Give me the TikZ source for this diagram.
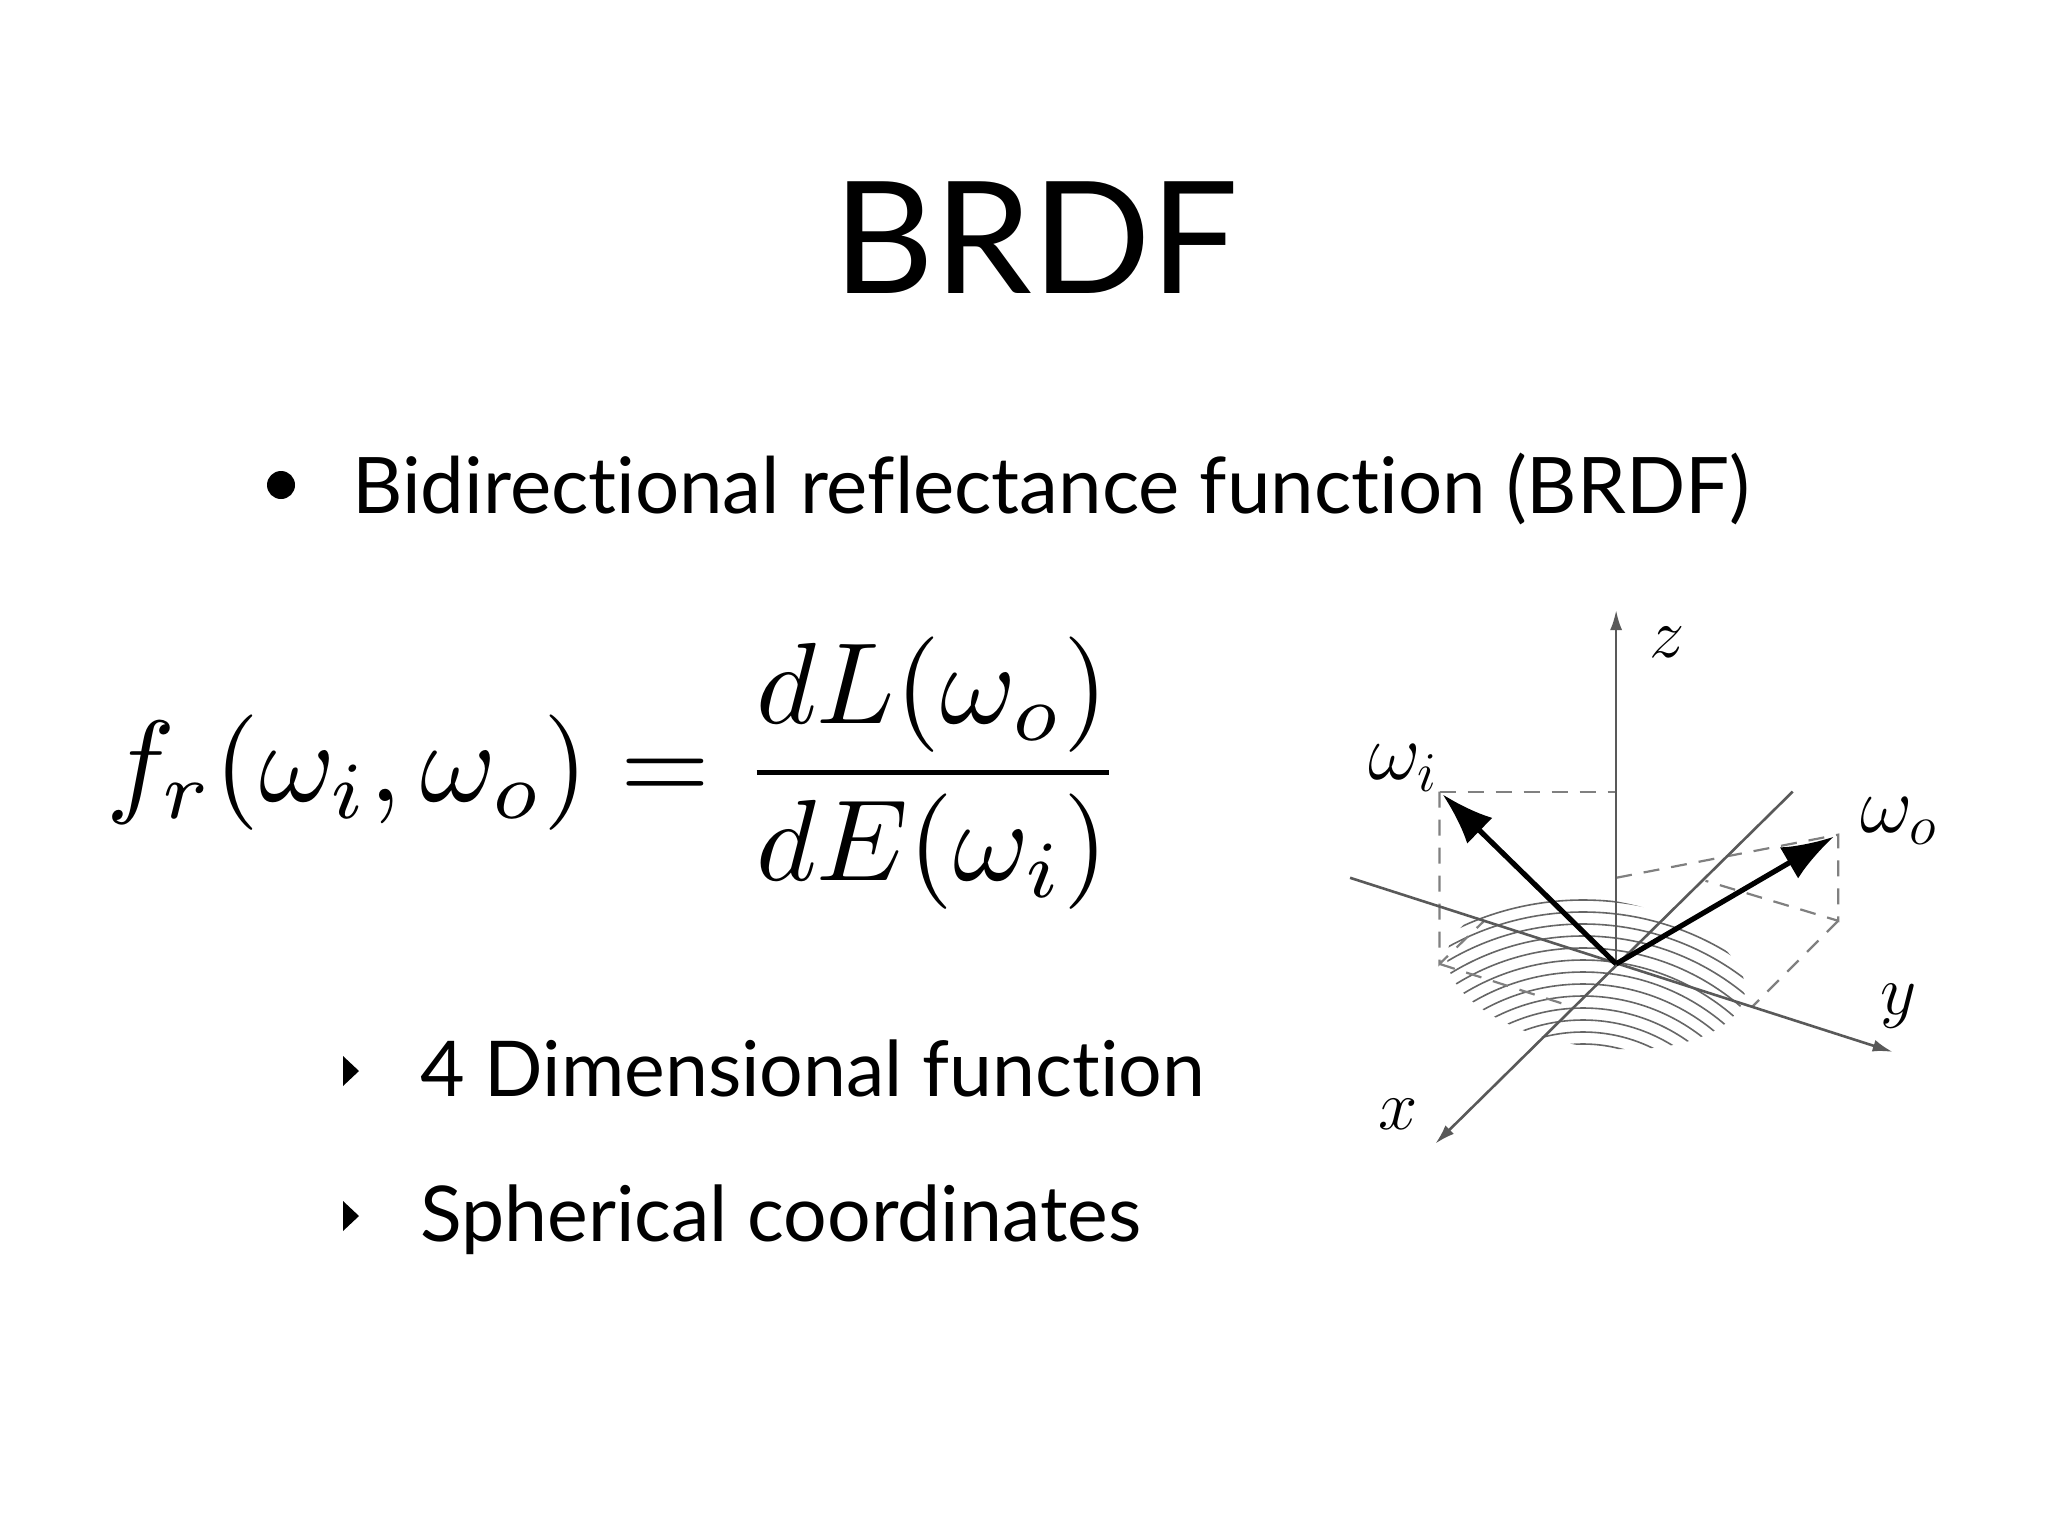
\documentclass[tikz,border=0pt]{standalone}
\usepackage{fontspec}
\setmainfont[Ligatures={NoCommon}]{Lato}
\usetikzlibrary{arrows.meta}
\begin{document}
\begin{tikzpicture}[x=0.5pt,y=-0.5pt,
  axis/.style={draw=black!65,line width=1.3pt},
  dsh/.style={draw=black!50,line width=1.1pt,dash pattern=on 8pt off 6pt},
  vec/.style={draw=black,line width=2.6pt,-{Latex[length=26pt,width=18pt]}},
  txt/.style={inner sep=0pt,anchor=base west}]
\useasboundingbox (0,0) rectangle (2048,1536);
\fill[white] (0,0) rectangle (2048,1536);
\node[inner sep=0pt,anchor=base] (title) at (1036,293) {\fontsize{78pt}{90pt}\selectfont BRDF};
\fill (281,485) circle (14) coordinate (b1);
\node[txt] (t1) at (352,513) {\fontsize{39pt}{44pt}\selectfont Bidirectional reflectance function (BRDF)};
\node[inner sep=0pt,anchor=west] (eq) at (106,773) {\resizebox{508pt}{!}{$\displaystyle f_r(\omega_i,\omega_o)=\frac{dL(\omega_o)}{dE(\omega_i)}$}};
\fill (343,1056) -- (359,1071) -- (343,1086) -- cycle;
\node[txt] (t2) at (420,1096) {\fontsize{38.5pt}{44pt}\selectfont 4 Dimensional function};
\fill (343,1201) -- (359,1216) -- (343,1231) -- cycle;
\node[txt] (t3) at (420,1241) {\fontsize{38.5pt}{44pt}\selectfont Spherical coordinates};
% diagram
\begin{scope}[shift={(-17,-10)}]
\coordinate (O) at (1633.1,973.9);
\coordinate (Z) at (1633.1,620);
\coordinate (X) at (1452.3,1153.7);
\coordinate (Xb) at (1809.7,801.6);
\coordinate (Ys) at (1367.1,887.8);
\coordinate (Y) at (1909.7,1061.9);
\coordinate (Wi) at (1459.5,804.3);
\coordinate (Wo) at (1851,846.6);
\begin{scope}
\clip[rotate around={-8:(1613,983)}] (1613,983) ellipse (150 and 74);
\foreach \r in {110,122,...,300} \draw[black!60,line width=0.8pt] (1600,1200) circle (\r);
\end{scope}
\draw[dsh] (1456.5,801.6) -- (1633.1,801.6);
\draw[dsh] (1456.5,801.6) -- (1456.5,973.9) -- (1501.2,930.8);
\draw[dsh] (1456.5,973.9) -- (1590.1,1017);
\draw[dsh] (1633.1,887.8) -- (1855.2,844.7) -- (1855.2,930.8) -- (1722.5,890.8);
\draw[dsh] (1855.2,930.8) -- (1768.9,1017);
\draw[axis,-{Latex[length=10pt,width=6pt]}] (O) -- (Z);
\draw[axis,-{Latex[length=10pt,width=6pt]}] (Xb) -- (X);
\draw[axis,-{Latex[length=10pt,width=6pt]}] (Ys) -- (Y);
\draw[vec] (O) -- (Wi);
\draw[vec] (O) -- (Wo);
\node (zl) at (1684,652) {\fontsize{20pt}{24pt}\selectfont\scalebox{1.7}{$z$}};
\node (xl) at (1415,1124) {\fontsize{20pt}{24pt}\selectfont\scalebox{1.7}{$x$}};
\node (yl) at (1916,1016) {\fontsize{20pt}{24pt}\selectfont\scalebox{1.7}{$y$}};
\node (wil) at (1420,778) {\fontsize{20pt}{24pt}\selectfont\scalebox{1.95}{$\omega_i$}};
\node (wol) at (1916,831) {\fontsize{20pt}{24pt}\selectfont\scalebox{1.95}{$\omega_o$}};
\end{scope}
\end{tikzpicture}
\end{document}
